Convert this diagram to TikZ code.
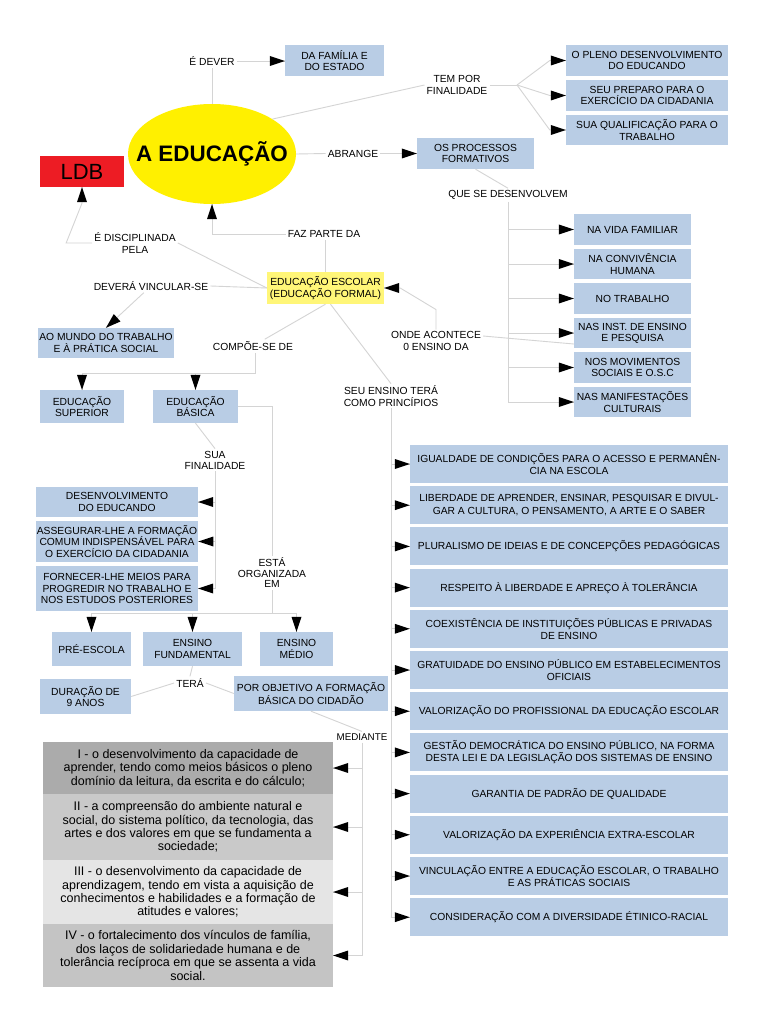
\documentclass[tikz,border=0pt]{standalone}
\usepackage{fontspec}
\setmainfont{Liberation Sans}
\usetikzlibrary{shapes.geometric,calc}
\definecolor{boxblue}{RGB}{185,205,229}
\definecolor{eduyellow}{RGB}{255,240,0}
\definecolor{escyellow}{RGB}{255,246,120}
\definecolor{ldbred}{RGB}{237,28,36}
\definecolor{linegray}{RGB}{212,212,212}
\definecolor{grayA}{RGB}{171,171,171}
\definecolor{grayB}{RGB}{201,201,201}
\definecolor{grayC}{RGB}{229,229,229}
\definecolor{grayD}{RGB}{196,196,196}
\begin{document}
\begin{tikzpicture}[x=1pt,y=-1pt,
  bbox/.style={fill=boxblue, draw=none, align=center, inner sep=1pt, font=\fontsize{10.3}{11.2}\selectfont},
  pbox/.style={bbox, minimum width=318pt, minimum height=38pt, font=\fontsize{10.3}{12.3}\selectfont},
  gbox/.style={draw=none, align=center, inner sep=1pt, minimum width=290pt, font=\fontsize{12.5}{13.4}\selectfont},
  lbl/.style={align=center, inner sep=2pt, font=\fontsize{10.3}{11.2}\selectfont},
  conn/.style={draw=linegray, line width=0.9pt},
  tip/.pic={\fill[black] (0,0) -- (-15,-5) -- (-15,5) -- cycle;},
]
\fill[white] (0,0) rectangle (768,1024);
\useasboundingbox (0,0) rectangle (768,1024);

% main concepts
\node[ellipse, fill=eduyellow, minimum width=168pt, minimum height=100pt, inner sep=0pt] (edu) at (212,154)
  {\makebox[0pt]{\fontsize{22.4}{24}\selectfont\bfseries A EDUCAÇÃO}};
\node[fill=ldbred, minimum width=84pt, minimum height=31pt, inner sep=0pt, font=\fontsize{22}{24}\selectfont] (ldb) at (82,171.5) {LDB};
\node[bbox, minimum width=99pt, minimum height=31pt] (fam) at (334.5,60.5) {DA FAMÍLIA E\\DO ESTADO};
\node[bbox, minimum width=162pt, minimum height=31pt] (p1) at (647,60.5) {O PLENO DESENVOLVIMENTO\\DO EDUCANDO};
\node[bbox, minimum width=162pt, minimum height=31pt] (p2) at (647,95.5) {SEU PREPARO PARA O\\EXERCÍCIO DA CIDADANIA};
\node[bbox, minimum width=162pt, minimum height=30pt] (p3) at (647,130) {SUA QUALIFICAÇÃO PARA O\\TRABALHO};
\node[bbox, minimum width=117pt, minimum height=31pt] (proc) at (475.5,153.5) {OS PROCESSOS\\FORMATIVOS};
\node[bbox, minimum width=117pt, minimum height=31pt] (v1) at (632.5,229.5) {NA VIDA FAMILIAR};
\node[bbox, minimum width=117pt, minimum height=30pt] (v2) at (632.5,264) {NA CONVIVÊNCIA\\HUMANA};
\node[bbox, minimum width=117pt, minimum height=31pt] (v3) at (632.5,298.5) {NO TRABALHO};
\node[bbox, minimum width=117pt, minimum height=30pt] (v4) at (632.5,333) {NAS INST. DE ENSINO\\E PESQUISA};
\node[bbox, minimum width=117pt, minimum height=31pt] (v5) at (632.5,367.5) {NOS MOVIMENTOS\\SOCIAIS E O.S.C};
\node[bbox, minimum width=117pt, minimum height=30pt] (v6) at (632.5,402) {NAS MANIFESTAÇÕES\\CULTURAIS};
\node[bbox, fill=escyellow, minimum width=117pt, minimum height=32pt] (esc) at (325.5,288) {EDUCAÇÃO ESCOLAR\\(EDUCAÇÃO FORMAL)};
\node[bbox, minimum width=132pt, minimum height=30pt] (mundo) at (106,343) {AO MUNDO DO TRABALHO\\E À PRÁTICA SOCIAL};
\node[bbox, minimum width=84pt, minimum height=33pt] (sup) at (82,406.5) {EDUCAÇÃO\\SUPERIOR};
\node[bbox, minimum width=85pt, minimum height=33pt] (bas) at (195.5,406.5) {EDUCAÇÃO\\BÁSICA};
\node[bbox, minimum width=162pt, minimum height=30pt] (d1) at (117,502) {DESENVOLVIMENTO\\DO EDUCANDO};
\node[bbox, minimum width=162pt, minimum height=41pt] (d2) at (117,541.5) {ASSEGURAR-LHE A FORMAÇÃO\\COMUM INDISPENSÁVEL PARA\\O EXERCÍCIO DA CIDADANIA};
\node[bbox, minimum width=162pt, minimum height=45pt] (d3) at (117,588.5) {FORNECER-LHE MEIOS PARA\\PROGREDIR NO TRABALHO E\\NOS ESTUDOS POSTERIORES};
\node[bbox, minimum width=79pt, minimum height=34pt] (pre) at (91.5,649) {PRÉ-ESCOLA};
\node[bbox, minimum width=99pt, minimum height=34pt] (fund) at (192.5,649) {ENSINO\\FUNDAMENTAL};
\node[bbox, minimum width=73pt, minimum height=34pt] (med) at (296.5,649) {ENSINO\\MÉDIO};
\node[bbox, minimum width=91pt, minimum height=35pt] (dur) at (85.5,696.5) {DURAÇÃO DE\\9 ANOS};
\node[bbox, minimum width=154pt, minimum height=35pt] (obj) at (311,693.5) {POR OBJETIVO A FORMAÇÃO\\BÁSICA DO CIDADÃO};

% principles
\node[pbox] (pr1) at (569,464.0) {IGUALDADE DE CONDIÇÕES PARA O ACESSO E PERMANÊN-\\CIA NA ESCOLA};
\node[pbox] (pr2) at (569,505.2) {LIBERDADE DE APRENDER, ENSINAR, PESQUISAR E DIVUL-\\GAR A CULTURA, O PENSAMENTO, A ARTE E O SABER};
\node[pbox] (pr3) at (569,546.4) {PLURALISMO DE IDEIAS E DE CONCEPÇÕES PEDAGÓGICAS};
\node[pbox] (pr4) at (569,587.6) {RESPEITO À LIBERDADE E APREÇO À TOLERÂNCIA};
\node[pbox] (pr5) at (569,628.8) {COEXISTÊNCIA DE INSTITUIÇÕES PÚBLICAS E PRIVADAS\\DE ENSINO};
\node[pbox] (pr6) at (569,670.0) {GRATUIDADE DO ENSINO PÚBLICO EM ESTABELECIMENTOS\\OFICIAIS};
\node[pbox] (pr7) at (569,711.2) {VALORIZAÇÃO DO PROFISSIONAL DA EDUCAÇÃO ESCOLAR};
\node[pbox] (pr8) at (569,752.4) {GESTÃO DEMOCRÁTICA DO ENSINO PÚBLICO, NA FORMA\\DESTA LEI E DA LEGISLAÇÃO DOS SISTEMAS DE ENSINO};
\node[pbox] (pr9) at (569,793.6) {GARANTIA DE PADRÃO DE QUALIDADE};
\node[pbox] (pr10) at (569,834.8) {VALORIZAÇÃO DA EXPERIÊNCIA EXTRA-ESCOLAR};
\node[pbox] (pr11) at (569,876.0) {VINCULAÇÃO ENTRE A EDUCAÇÃO ESCOLAR, O TRABALHO\\E AS PRÁTICAS SOCIAIS};
\node[pbox] (pr12) at (569,917.2) {CONSIDERAÇÃO COM A DIVERSIDADE ÉTINICO-RACIAL};

% gray boxes
\node[gbox, fill=grayA, minimum height=52pt] (g1) at (188,768) {I - o desenvolvimento da capacidade de\\aprender, tendo como meios básicos o pleno\\domínio da leitura, da escrita e do cálculo;};
\node[gbox, fill=grayB, minimum height=66pt] (g2) at (188,827) {II - a compreensão do ambiente natural e\\social, do sistema político, da tecnologia, das\\artes e dos valores em que se fundamenta a\\sociedade;};
\node[gbox, fill=grayC, minimum height=64pt] (g3) at (188,892) {III - o desenvolvimento da capacidade de\\aprendizagem, tendo em vista a aquisição de\\conhecimentos e habilidades e a formação de\\atitudes e valores;};
\node[gbox, fill=grayD, minimum height=63pt] (g4) at (188,955.5) {IV - o fortalecimento dos vínculos de família,\\dos laços de solidariedade humana e de\\tolerância recíproca em que se assenta a vida\\social.};

% linking labels
\node[lbl] (ldever) at (212,61) {É DEVER};
\node[lbl] (ltem) at (457,85) {TEM POR\\FINALIDADE};
\node[lbl] (labr) at (353,153.5) {ABRANGE};
\node[lbl] (lque) at (508,195) {QUE SE DESENVOLVEM};
\node[lbl] (lfaz) at (324,234) {FAZ PARTE DA};
\node[lbl] (ldisc) at (135,243) {É DISCIPLINADA\\PELA};
\node[lbl] (ldev) at (151,286) {DEVERÁ VINCULAR-SE};
\node[lbl] (lcomp) at (253,346) {COMPÕE-SE DE};
\node[lbl] (lond) at (436,341) {ONDE ACONTECE\\0 ENSINO DA};
\node[lbl] (lseu) at (391,396) {SEU ENSINO TERÁ\\COMO PRINCÍPIOS};
\node[lbl] (lsua) at (215,460) {SUA\\FINALIDADE};
\node[lbl, font=\fontsize{10.3}{10.5}\selectfont] (lest) at (272,573) {ESTÁ\\ORGANIZADA\\EM};
\node[lbl] (lter) at (190,683) {TERÁ};
\node[lbl, font=\fontsize{9.8}{11}\selectfont] (lmed) at (362,737) {MEDIANTE};

\coordinate (fan) at (517,85);
\coordinate (cj) at (255,373);
\coordinate (cj2) at (272,613);

% connectors (lines), arrowheads drawn as filled triangles at the target anchors
\draw[conn] (edu.north) -- (ldever.south);
\draw[conn] (ldever.east) -- (ldever.east -| fam.west);
\pic at (ldever.east -| fam.west) {tip};
\draw[conn] (edu.30) -- (ltem.west);
\draw[conn] (ltem.east) -- (fan);
\foreach \n in {p1,p2,p3} {
  \draw[conn] (fan) -- ($(\n.west)+(-16,0)$) -- (\n.west);
  \pic at (\n.west) {tip};
}
\draw[conn] (edu.east) -- (labr.west);
\draw[conn] (labr.east) -- (labr.east -| proc.west);
\pic at (labr.east -| proc.west) {tip};
\draw[conn] (proc.south) -- (lque.north);
\draw[conn] (lque.south) -- (lque.south |- v6.west);
\foreach \n in {v1,v2,v3,v4,v5,v6} {
  \draw[conn] (lque.south |- \n.west) -- (\n.west);
  \pic at (\n.west) {tip};
}

\draw[conn] (esc.north) -- (esc.north |- lfaz.south);
\draw[conn] (lfaz.west) -- (lfaz.west -| edu.south) -- (edu.south);
\pic[rotate=90] at (edu.south) {tip};
\draw[conn] (esc.west) -- (ldisc.east);
\draw[conn] (ldisc.west) -- ($(ldisc.west)+(-26,0)$) -- ($(ldb.south)+(0,16)$) -- (ldb.south);
\pic[rotate=90] at (ldb.south) {tip};
\draw[conn] (esc.west) -- (ldev.east);
\draw[conn] (ldev) -- (mundo.north);
\pic[rotate=222] at (mundo.north) {tip};
\draw[conn] (esc.south) -- (lcomp);
\draw[conn] (lcomp.south -| cj) -- (cj) -- (cj -| sup.north);
\draw[conn] (cj -| sup.north) -- (sup.north);
\draw[conn] (cj -| bas.north) -- (bas.north);
\pic[rotate=-90] at (sup.north) {tip};
\pic[rotate=-90] at (bas.north) {tip};
\draw[conn] ($(v4.west)+(0,11)$) -- ($(lond.east)+(0,-5)$);
\draw[conn] (lond.north) -- ($(lond.north)+(0,-20)$) -- ($(esc.east)+(16,0)$) -- (esc.east);
\pic[rotate=180] at (esc.east) {tip};
\draw[conn] ($(esc.south)+(5,0)$) -- (lseu.north);
\draw[conn] (lseu.south) -- (lseu.south |- pr12.west);
\foreach \n in {pr1,pr2,pr3,pr4,pr5,pr6,pr7,pr8,pr9,pr10,pr11,pr12} {
  \draw[conn] (lseu.south |- \n.west) -- (\n.west);
  \pic at (\n.west) {tip};
}

\draw[conn] (bas.south) -- (lsua.north);
\draw[conn] (lsua.south) -- (lsua.south |- d3.east);
\foreach \n in {d1,d2,d3} {
  \draw[conn] (lsua.south |- \n.east) -- (\n.east);
  \pic[rotate=180] at (\n.east) {tip};
}
\draw[conn] (bas.east) -- (bas.east -| lest.north) -- (lest.north);
\draw[conn] (lest.south) -- (cj2);
\draw[conn] (cj2 -| pre.north) -- (cj2 -| med.north);
\foreach \n in {pre,fund,med} {
  \draw[conn] (cj2 -| \n.north) -- (\n.north);
  \pic[rotate=-90] at (\n.north) {tip};
}
\draw[conn] (fund.south) -- (lter.north);
\draw[conn] (lter.west) -- (dur.east);
\draw[conn] (lter.east) -- (obj.west);
\draw[conn] (obj.south) -- (lmed.north);
\draw[conn] (lmed.south) -- (lmed.south |- g4.east);
\foreach \n in {g1,g2,g3,g4} {
  \draw[conn] (lmed.south |- \n.east) -- (\n.east);
  \pic[rotate=180] at (\n.east) {tip};
}
\end{tikzpicture}
\end{document}
